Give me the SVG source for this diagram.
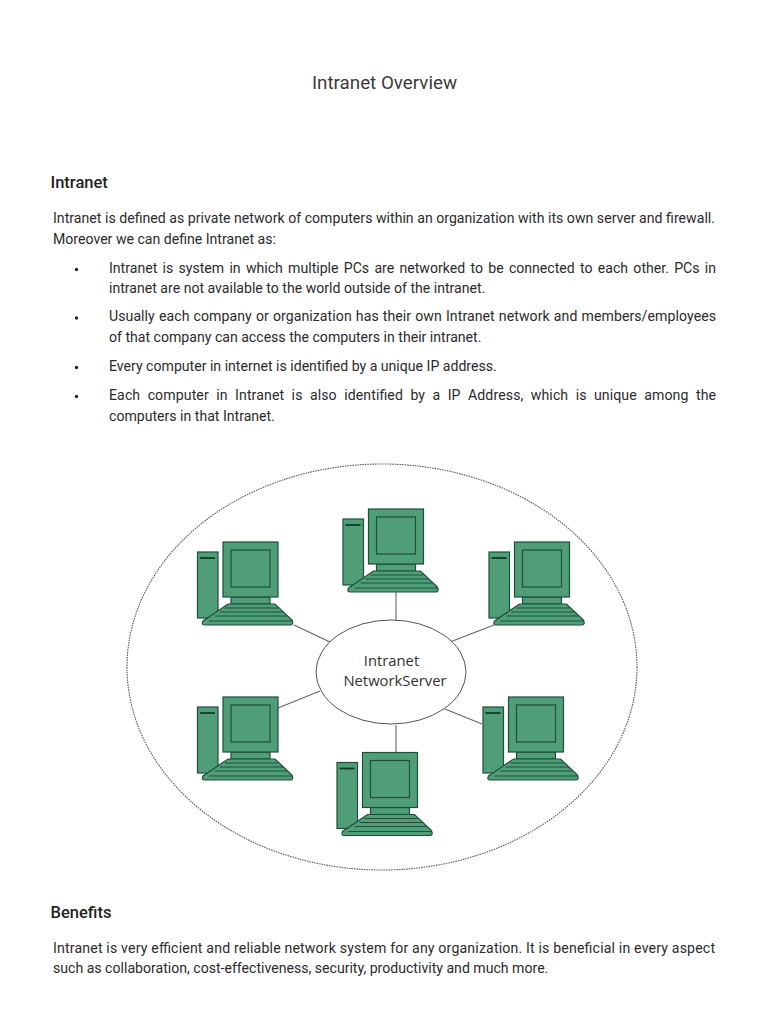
<svg xmlns="http://www.w3.org/2000/svg" width="768" height="1024" viewBox="0 0 768 1024">
<style>
text{font-family:Roboto,"Liberation Sans",sans-serif;fill:#2b2b2b}
.t{font-size:14.1px}
.h{font-size:16.5px;font-weight:500;fill:#1f1f1f}
.n{font-size:14.800px;font-family:"Open Sans","DejaVu Sans",sans-serif;fill:#333}
.c{stroke:#666;stroke-width:1.100;fill:none}
.g{fill:#4f9e78;stroke:#1f4f3a;stroke-width:1.200}
.k{stroke:#1f4f3a;stroke-width:1.200;fill:none}
</style>
<defs>
<g id="pc">
<rect class="g" x="-25.500" y="10" width="20.500" height="66"/>
<path d="M-23 16H-8" stroke="#123a28" stroke-width="1.800"/>
<rect class="g" x="8" y="55" width="39" height="7"/>
<rect class="g" width="55" height="55"/>
<rect class="k" x="8" y="8" width="39" height="37"/>
<path class="g" d="M5 62H52L69 78Q71 83 67 83H-18Q-22 83 -20 79Z"/>
<path class="k" d="M2 66H55M-3 70H60M-8 74H64M-14 79H69"/>
</g>
</defs>
<rect width="768" height="1024" fill="#fff"/>
<text x="384.500" y="89" text-anchor="middle" fill="#3a3a3a" style="font-size:18.800px;fill:#3a3a3a">Intranet Overview</text>
<text class="h" x="50.500" y="188">Intranet</text>
<text class="t" x="53" y="223" textLength="662">Intranet is defined as private network of computers within an organization with its own server and firewall.</text>
<text class="t" x="53" y="244">Moreover we can define Intranet as:</text>
<g id="bullets" fill="#222"><circle cx="76.500" cy="269.500" r="1.700"/><circle cx="76.500" cy="318" r="1.700"/><circle cx="76.500" cy="367.500" r="1.700"/><circle cx="76.500" cy="396.500" r="1.700"/></g>
<text class="t" x="109" y="273" textLength="607" word-spacing="1.800">Intranet is system in which multiple PCs are networked to be connected to each other. PCs in</text>
<text class="t" x="109" y="293">intranet are not available to the world outside of the intranet.</text>
<text class="t" x="109" y="321" textLength="607" word-spacing="0.500">Usually each company or organization has their own Intranet network and members/employees</text>
<text class="t" x="109" y="342">of that company can access the computers in their intranet.</text>
<text class="t" x="109" y="371">Every computer in internet is identified by a unique IP address.</text>
<text class="t" x="109" y="400" textLength="607" word-spacing="3.800">Each computer in Intranet is also identified by a IP Address, which is unique among the</text>
<text class="t" x="109" y="421">computers in that Intranet.</text>
<ellipse id="network-boundary" cx="382" cy="667" rx="255" ry="203" fill="none" stroke="#555" stroke-width="1.100" stroke-dasharray="1.500 1"/>
<g id="connectors">
<path class="c" d="M396 592V620M294 625L330 642M450 642L494 625M278 708L320 691M445 709L482 724M396 725V752"/>
</g>
<g id="server">
<ellipse cx="391" cy="672" rx="75" ry="52" fill="#fff" stroke="#555" stroke-width="1"/>
<text class="n" x="391.500" y="666" text-anchor="middle">Intranet</text>
<text class="n" x="395" y="686" text-anchor="middle">NetworkServer</text>
</g>
<g id="pc-top"><use href="#pc" x="368.500" y="509"/></g>
<g id="pc-upper-left"><use href="#pc" x="223" y="542"/></g>
<g id="pc-upper-right"><use href="#pc" x="514.500" y="542"/></g>
<g id="pc-lower-left"><use href="#pc" x="223" y="697"/></g>
<g id="pc-lower-right"><use href="#pc" x="508.500" y="697"/></g>
<g id="pc-bottom"><use href="#pc" x="362.500" y="752.500"/></g>
<text class="h" x="50.500" y="918">Benefits</text>
<text class="t" x="53" y="953" textLength="662">Intranet is very efficient and reliable network system for any organization. It is beneficial in every aspect</text>
<text class="t" x="53" y="973">such as collaboration, cost-effectiveness, security, productivity and much more.</text>
</svg>
